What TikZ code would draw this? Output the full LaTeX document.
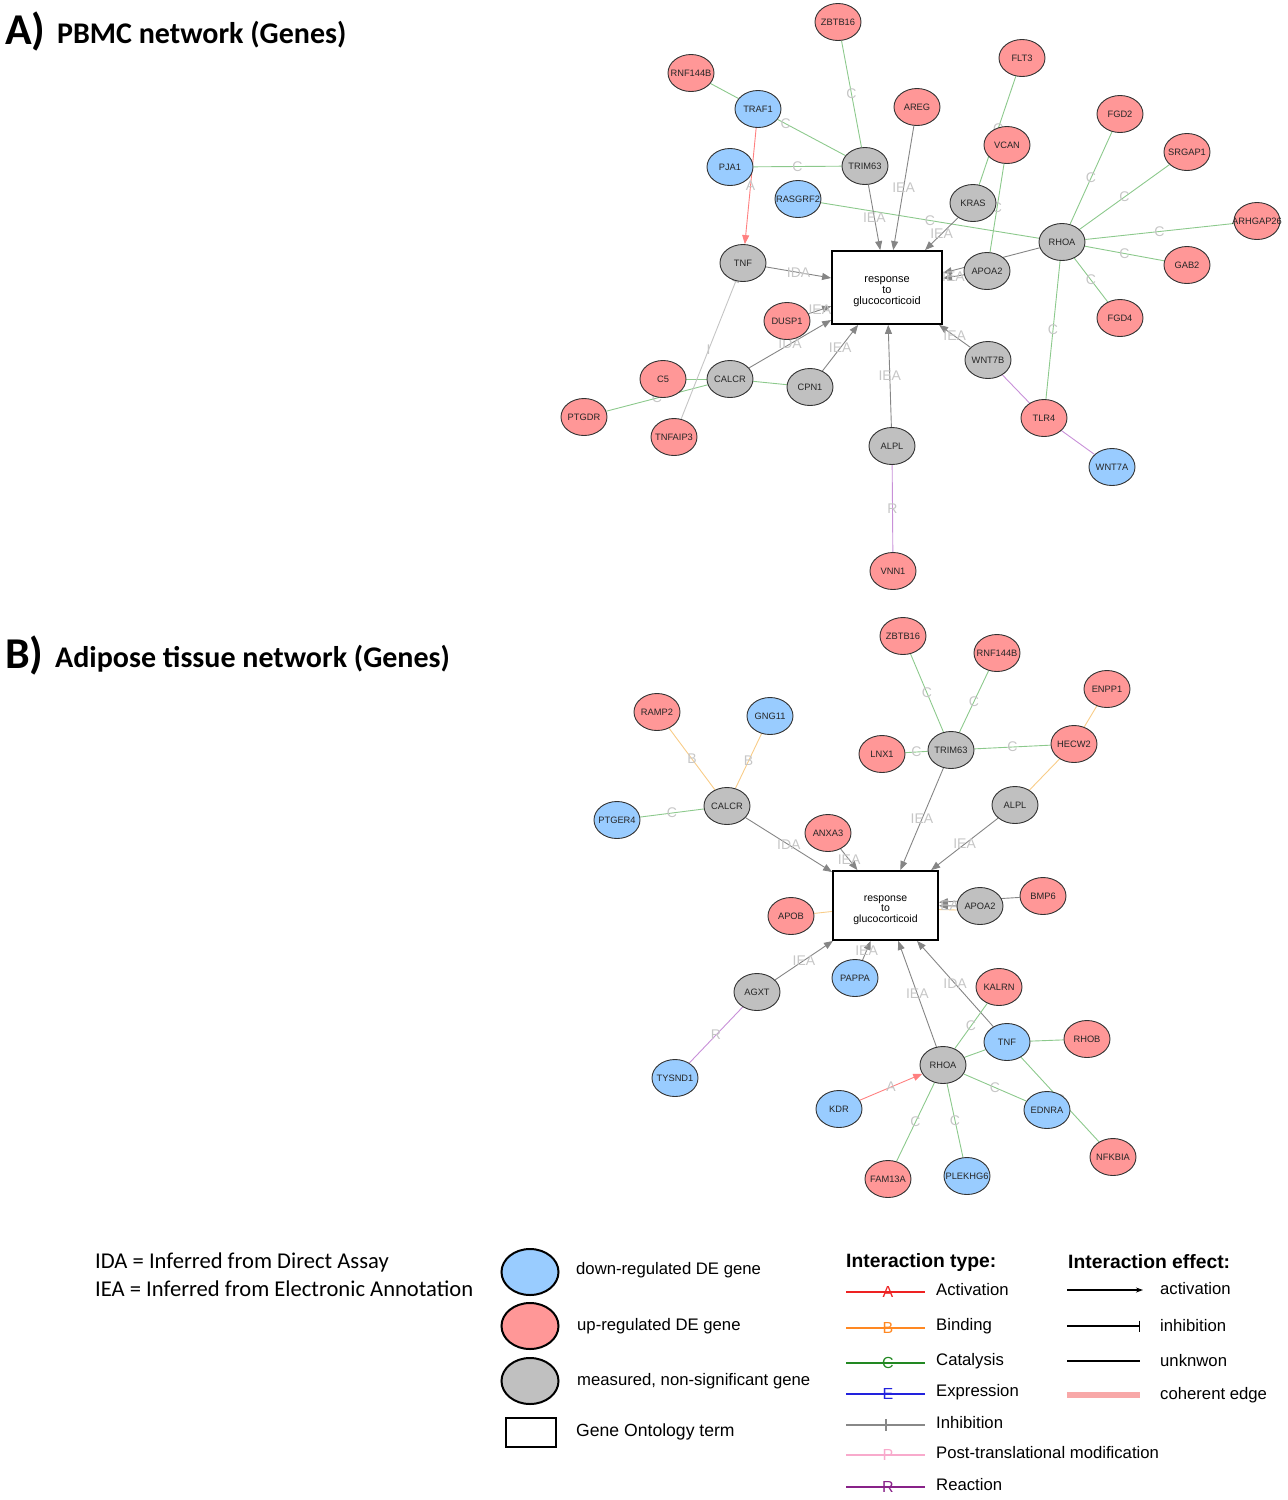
\documentclass[tikz,border=0pt]{standalone}
\usepackage{fontspec}
\setmainfont{Liberation Sans}
\newfontfamily\calfont{Carlito}
\usetikzlibrary{shapes.geometric,arrows.meta}
\pgfdeclarelayer{bg}
\pgfsetlayers{bg,main}
\definecolor{dnblue}{HTML}{99CCFF}
\definecolor{upred}{HTML}{FF9797}
\definecolor{nsgray}{HTML}{C0C0C0}
\definecolor{ecat}{HTML}{8CC98C}
\definecolor{earr}{HTML}{858585}
\definecolor{eact}{HTML}{FF8080}
\definecolor{ereac}{HTML}{C890D8}
\definecolor{ebind}{HTML}{F8CC88}
\definecolor{einh}{HTML}{C4C4C4}
\definecolor{lbltxt}{HTML}{C6C6C6}
\definecolor{lgact}{HTML}{EE2222}
\definecolor{lgbind}{HTML}{FF8822}
\definecolor{lgcat}{HTML}{228822}
\definecolor{lgexp}{HTML}{2222DD}
\definecolor{lginh}{HTML}{888888}
\definecolor{lgpost}{HTML}{F8AACC}
\definecolor{lgreac}{HTML}{882288}
\definecolor{coh}{HTML}{F8A8A8}
\newcommand\gn[1]{\makebox[0pt][c]{#1}}
\newcommand\goText[1]{\raisebox{-#1}[0pt][0pt]{\parbox{100pt}{\centering response\\to\\glucocorticoid}}}
\tikzset{
  gene/.style={ellipse, draw=black!80, line width=0.9pt, minimum width=46pt, minimum height=37pt, inner sep=0pt, text=black!85, font=\fontsize{9.3}{10}\selectfont},
  dn/.style={gene, fill=dnblue},
  up/.style={gene, fill=upred},
  ns/.style={gene, fill=nsgray},
  goterm/.style={draw, line width=1.8pt, fill=white, minimum width=110pt, minimum height=73pt, inner sep=0pt, font=\fontsize{11}{11}\selectfont},
  lbl/.style={text=lbltxt, font=\fontsize{14}{14}\selectfont, inner sep=0pt, pos=.5},
  cat/.style={draw=ecat, line width=0.9pt},
  bind/.style={draw=ebind, line width=0.9pt},
  reac/.style={draw=ereac, line width=0.9pt},
  arr/.style={draw=earr, line width=0.9pt, -{Triangle[length=9pt,width=7pt]}},
  act/.style={draw=eact, line width=0.9pt, -{Triangle[length=9pt,width=7pt]}},
  inh/.style={draw=einh, line width=0.9pt, -{Bar[width=7pt]}},
  ttlbig/.style={anchor=base west, inner sep=0pt, font=\calfont\bfseries\fontsize{44}{44}\selectfont},
  ttl/.style={anchor=base west, inner sep=0pt, font=\calfont\bfseries\fontsize{30}{30}\selectfont},
  evtxt/.style={anchor=base west, inner sep=0pt, font=\calfont\fontsize{22.6}{22.6}\selectfont},
  lgell/.style={ellipse, draw=black, line width=2pt, minimum width=57pt, minimum height=46pt},
  lgtxt/.style={anchor=west, inner sep=0pt, font=\fontsize{16.7}{16.7}\selectfont},
  lghead/.style={anchor=west, inner sep=0pt, font=\bfseries\fontsize{19.3}{19.3}\selectfont},
  lgletter/.style={inner sep=0pt, font=\fontsize{16}{16}\selectfont},
}
\begin{document}
\begin{tikzpicture}[x=1pt,y=-1pt]
\useasboundingbox (0,0) rectangle (1288,1500);

% ---------- titles ----------
\node[ttlbig] (tA) at (5,44) {A)};
\node[ttl] (tAt) at (57,43) {PBMC network (Genes)};
\node[ttlbig] (tB) at (5,668) {B)};
\node[ttl] (tBt) at (55,667) {Adipose tissue network (Genes)};

% ---------- panel A nodes ----------
\node[goterm] (a-go) at (887,287.5) {\goText{7pt}};
\node[up] (a-zbtb) at (838,22) {\gn{ZBTB16}};
\node[up] (a-rnf) at (691,73) {\gn{RNF144B}};
\node[dn] (a-traf) at (758,109) {\gn{TRAF1}};
\node[dn] (a-pja) at (730,167) {\gn{PJA1}};
\node[ns] (a-trim) at (865,166) {\gn{TRIM63}};
\node[dn] (a-ras) at (798,199) {\gn{RASGRF2}};
\node[ns] (a-tnf) at (743,263) {\gn{TNF}};
\node[up] (a-areg) at (917,107) {\gn{AREG}};
\node[up] (a-flt) at (1022,58) {\gn{FLT3}};
\node[up] (a-vcan) at (1007,145) {\gn{VCAN}};
\node[up] (a-fgd2) at (1120,114) {\gn{FGD2}};
\node[up] (a-srgap) at (1187,152) {\gn{SRGAP1}};
\node[up] (a-arhgap) at (1257,221) {\gn{ARHGAP26}};
\node[ns] (a-kras) at (973,203) {\gn{KRAS}};
\node[ns] (a-rhoa) at (1062,242) {\gn{RHOA}};
\node[up] (a-gab) at (1187,265) {\gn{GAB2}};
\node[ns] (a-apoa) at (987,271) {\gn{APOA2}};
\node[up] (a-fgd4) at (1120,318) {\gn{FGD4}};
\node[ns] (a-wnt7b) at (988,360) {\gn{WNT7B}};
\node[up] (a-tlr) at (1044,418) {\gn{TLR4}};
\node[dn] (a-wnt7a) at (1112,467) {\gn{WNT7A}};
\node[ns] (a-alpl) at (892,446) {\gn{ALPL}};
\node[up] (a-vnn) at (893,571) {\gn{VNN1}};
\node[up] (a-dusp) at (787,321) {\gn{DUSP1}};
\node[up] (a-c5) at (663,379) {\gn{C5}};
\node[ns] (a-calcr) at (730,379) {\gn{CALCR}};
\node[ns] (a-cpn) at (810,387) {\gn{CPN1}};
\node[up] (a-ptgdr) at (584,417) {\gn{PTGDR}};
\node[up] (a-tnfaip) at (674,437) {\gn{TNFAIP3}};

% ---------- panel B nodes ----------
\node[goterm, minimum width=105pt, minimum height=69pt, font=\fontsize{10.5}{10.5}\selectfont] (b-go) at (885.5,905.5) {\goText{7pt}};
\node[up] (b-zbtb) at (903,636) {\gn{ZBTB16}};
\node[up] (b-rnf) at (997,653) {\gn{RNF144B}};
\node[up] (b-enpp) at (1107,689) {\gn{ENPP1}};
\node[up] (b-hecw) at (1074,744) {\gn{HECW2}};
\node[ns] (b-trim) at (951,750) {\gn{TRIM63}};
\node[up] (b-lnx) at (882,754) {\gn{LNX1}};
\node[ns] (b-alpl) at (1015,805) {\gn{ALPL}};
\node[ns] (b-apoa) at (980,906) {\gn{APOA2}};
\node[up] (b-bmp) at (1043,896) {\gn{BMP6}};
\node[up] (b-ramp) at (657,712) {\gn{RAMP2}};
\node[dn] (b-gng) at (770,716) {\gn{GNG11}};
\node[ns] (b-calcr) at (727,806) {\gn{CALCR}};
\node[dn] (b-ptger) at (617,820) {\gn{PTGER4}};
\node[up] (b-anxa) at (828,833) {\gn{ANXA3}};
\node[up] (b-apob) at (791,916) {\gn{APOB}};
\node[ns] (b-agxt) at (757,992) {\gn{AGXT}};
\node[dn] (b-pappa) at (855,978) {\gn{PAPPA}};
\node[up] (b-kalrn) at (999,987) {\gn{KALRN}};
\node[dn] (b-tnf) at (1007,1042) {\gn{TNF}};
\node[up] (b-rhob) at (1087,1039) {\gn{RHOB}};
\node[ns] (b-rhoa) at (943,1065) {\gn{RHOA}};
\node[dn] (b-kdr) at (839,1109) {\gn{KDR}};
\node[dn] (b-ednra) at (1047,1110) {\gn{EDNRA}};
\node[up] (b-nfkbia) at (1113,1157) {\gn{NFKBIA}};
\node[dn] (b-tysnd) at (675,1078) {\gn{TYSND1}};
\node[up] (b-fam) at (888,1179) {\gn{FAM13A}};
\node[dn] (b-plek) at (967,1176) {\gn{PLEKHG6}};

% ---------- edges ----------
\begin{pgfonlayer}{bg}
% panel A
\draw[cat] (a-zbtb) -- node[lbl]{C} (a-trim);
\draw[cat] (a-rnf) -- (a-traf);
\draw[cat] (a-traf) -- node[lbl,pos=.12]{C} (a-trim);
\draw[cat] (a-pja) -- node[lbl]{C} (a-trim);
\draw[cat] (a-ras) -- node[lbl]{C} (a-rhoa);
\draw[cat] (a-flt) -- node[lbl,pos=.48]{C} (a-kras);
\draw[cat] (a-vcan) -- node[lbl]{C} (a-apoa);
\draw[cat] (a-rhoa) -- node[lbl]{C} (a-fgd2);
\draw[cat] (a-rhoa) -- node[lbl]{C} (a-srgap);
\draw[cat] (a-rhoa) -- node[lbl]{C} (a-arhgap);
\draw[cat] (a-rhoa) -- node[lbl]{C} (a-gab);
\draw[cat] (a-rhoa) -- node[lbl]{C} (a-fgd4);
\draw[cat] (a-rhoa) -- node[lbl]{C} (a-tlr);
\draw[cat] (a-c5) -- (a-calcr);
\draw[cat] (a-ptgdr) -- node[lbl]{C} (a-calcr);
\draw[cat] (a-calcr) -- (a-cpn);
\draw[act] (a-traf) -- node[lbl]{A} (a-tnf);
\draw[arr] (a-trim) -- node[lbl]{IEA} (a-go);
\draw[arr] (a-areg) -- node[lbl]{IEA} (a-go);
\draw[arr] (a-kras) -- node[lbl]{IEA} (a-go);
\draw[arr] (a-rhoa) -- (a-go);
\draw[arr] (a-apoa) -- node[lbl]{IEA} (a-go);
\draw[arr] (a-tnf) -- node[lbl]{IDA} (a-go);
\draw[arr] (a-dusp) -- node[lbl]{IEA} (a-go);
\draw[arr] (a-calcr) -- node[lbl]{IDA} (a-go);
\draw[arr] (a-cpn) -- node[lbl]{IEA} (a-go);
\draw[arr] (a-alpl) -- node[lbl]{IEA} (a-go);
\draw[arr] (a-wnt7b) -- node[lbl]{IEA} (a-go);
\draw[reac] (a-wnt7b) -- (a-tlr);
\draw[reac] (a-tlr) -- (a-wnt7a);
\draw[reac] (a-alpl) -- node[lbl]{R} (a-vnn);
\draw[inh] (a-tnfaip) -- node[lbl]{I} (a-tnf);
% panel B
\draw[cat] (b-zbtb) -- node[lbl]{C} (b-trim);
\draw[cat] (b-rnf) -- node[lbl]{C} (b-trim);
\draw[cat] (b-lnx) -- node[lbl]{C} (b-trim);
\draw[cat] (b-trim) -- node[lbl]{C} (b-hecw);
\draw[bind] (b-hecw) -- (b-enpp);
\draw[bind] (b-hecw) -- (b-alpl);
\draw[bind] (b-ramp) -- node[lbl]{B} (b-calcr);
\draw[bind] (b-gng) -- node[lbl]{B} (b-calcr);
\draw[cat] (b-ptger) -- node[lbl]{C} (b-calcr);
\draw[bind] (b-apob) -- (b-go);
\draw[bind] ([yshift=-4pt]b-apoa.west) -- ([yshift=-4pt]b-go.east);
\draw[arr] (b-trim) -- node[lbl]{IEA} (b-go);
\draw[arr] (b-alpl) -- node[lbl]{IEA} (b-go);
\draw[arr] (b-calcr) -- node[lbl]{IDA} (b-go);
\draw[arr] (b-anxa) -- node[lbl]{IEA} (b-go);
\draw[arr] (b-bmp) -- (b-go);
\draw[arr] (b-apoa) -- node[lbl]{IEA} (b-go);
\draw[arr] (b-agxt) -- node[lbl]{IEA} (b-go);
\draw[arr] (b-pappa) -- node[lbl]{IEA} (b-go);
\draw[arr] (b-rhoa) -- node[lbl]{IEA} (b-go);
\draw[arr] (b-tnf) -- node[lbl]{IDA} (b-go);
\draw[reac] (b-agxt) -- node[lbl]{R} (b-tysnd);
\draw[cat] (b-rhoa) -- node[lbl]{C} (b-kalrn);
\draw[cat] (b-rhoa) -- (b-tnf);
\draw[cat] (b-tnf) -- (b-rhob);
\draw[cat] (b-tnf) -- node[lbl]{C} (b-nfkbia);
\draw[cat] (b-rhoa) -- node[lbl]{C} (b-ednra);
\draw[cat] (b-rhoa) -- node[lbl]{C} (b-fam);
\draw[cat] (b-rhoa) -- node[lbl]{C} (b-plek);
\draw[act] (b-kdr) -- node[lbl]{A} (b-rhoa);
\end{pgfonlayer}

% ---------- legend ----------
\node[evtxt] (ev1) at (95,1268) {IDA = Inferred from Direct Assay};
\node[evtxt] (ev2) at (95,1296) {IEA = Inferred from Electronic Annotation};

\node[lgell, fill=dnblue] (lg1) at (530,1272) {};
\node[lgell, fill=upred] (lg2) at (530,1326) {};
\node[lgell, fill=nsgray] (lg3) at (530,1381) {};
\node[draw, line width=1.8pt, minimum width=50pt, minimum height=29pt, inner sep=0pt] (lg4) at (531,1432.5) {};
\node[lgtxt] (lt1) at (576,1270) {down-regulated DE gene};
\node[lgtxt] (lt2) at (577,1326) {up-regulated DE gene};
\node[lgtxt] (lt3) at (577,1381) {measured, non-significant gene};
\node[lgtxt, font=\fontsize{17.6}{17.6}\selectfont] (lt4) at (576,1432) {Gene Ontology term};

\node[lghead] (ith) at (846,1262) {Interaction type:};
\node[lghead] (ieh) at (1068,1262) {Interaction effect:};

\foreach \yy/\col/\lt/\txt in {1292/lgact/A/Activation, 1328/lgbind/B/Binding, 1363/lgcat/C/Catalysis, 1394/lgexp/E/Expression, 1455/lgpost/P/Post-translational modification, 1487/lgreac/R/Reaction}{
  \draw[\col, line width=1.6pt] (846,\yy) -- (925,\yy);
  \node[lgletter, text=\col] at (888,\yy) {\lt};
  \node[lgtxt] at (936,\yy-2) {\txt};
}
\draw[lginh, line width=1.6pt] (846,1425) -- (925,1425);
\draw[lginh, line width=1.6pt] (886,1419) -- (886,1431);
\node[lgtxt] (inhtxt) at (936,1423) {Inhibition};

\draw[black, line width=1.4pt, -{Stealth[length=7pt,width=5pt]}] (1067,1290) -- (1143,1290);
\draw[black, line width=1.4pt, -{Bar[width=11pt]}] (1067,1326) -- (1140,1326);
\draw[black, line width=1.4pt] (1067,1361) -- (1140,1361);
\draw[coh, line width=6pt] (1067,1395) -- (1140,1395);
\node[lgtxt] (ef1) at (1160,1289) {activation};
\node[lgtxt] (ef2) at (1160,1326) {inhibition};
\node[lgtxt] (ef3) at (1160,1361) {unknwon};
\node[lgtxt] (ef4) at (1160,1395) {coherent edge};
\end{tikzpicture}
\end{document}
